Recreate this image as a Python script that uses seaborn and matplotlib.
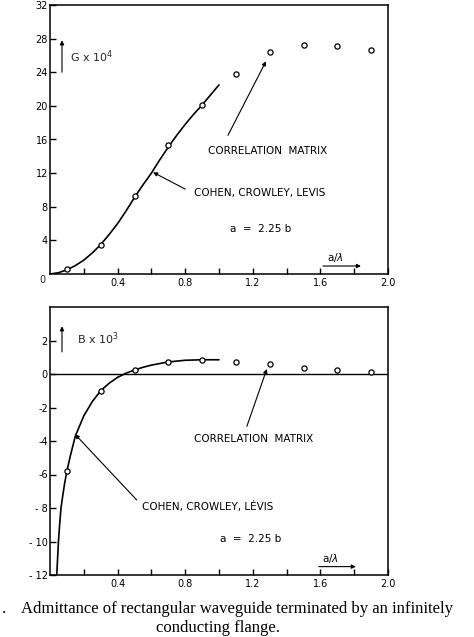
import numpy as np
import pandas as pd
import matplotlib
matplotlib.use("Agg")
import matplotlib.pyplot as plt
import seaborn as sns

# ---- data ----
pts_x = [0.1, 0.3, 0.5, 0.7, 0.9, 1.1, 1.3, 1.5, 1.7, 1.9]
G_pts = [0.55, 3.5, 9.3, 15.3, 20.1, 23.8, 26.4, 27.3, 27.1, 26.6]
B_pts = [-5.8, -1.0, 0.24, 0.72, 0.84, 0.74, 0.62, 0.34, 0.22, 0.12]

G_curve_x = [0.0, 0.05, 0.1, 0.15, 0.2, 0.25, 0.3, 0.35, 0.4, 0.45, 0.5,
             0.55, 0.6, 0.65, 0.7, 0.75, 0.8, 0.85, 0.9, 0.95, 1.0]
G_curve_y = [0.0, 0.15, 0.5, 1.0, 1.65, 2.5, 3.5, 4.7, 6.0, 7.5, 9.1,
             10.6, 12.0, 13.6, 15.1, 16.5, 17.8, 19.0, 20.1, 21.3, 22.5]

B_curve_x = [0.04, 0.045, 0.05, 0.057, 0.065, 0.075, 0.087, 0.1, 0.12, 0.15,
             0.2, 0.25, 0.3, 0.35, 0.4, 0.45, 0.5, 0.55, 0.6, 0.7, 0.8, 0.9, 1.0]
B_curve_y = [-12.0, -11.0, -10.0, -9.0, -8.0, -7.3, -6.5, -5.8, -4.9, -3.7,
             -2.5, -1.65, -1.0, -0.55, -0.2, 0.05, 0.24, 0.4, 0.53, 0.72, 0.82, 0.85, 0.85]

x_ticks = [0.2, 0.4, 0.6, 0.8, 1.0, 1.2, 1.4, 1.6, 1.8, 2.0]
x_labels = ["", "0.4", "", "0.8", "", "1.2", "", "1.6", "", "2.0"]
G_ticks = [4, 8, 12, 16, 20, 24, 28, 32]
B_ticks = [-12, -10, -8, -6, -4, -2, 0, 2]
B_labels = ["- 12", "- 10", "- 8", "-6", "-4", "-2", "0", "2"]

sns.set_style("ticks")
plt.rcParams["font.family"] = ["DejaVu Sans"]

fig = plt.figure(figsize=(4.74, 6.37), dpi=100)
ax1 = fig.add_axes([50/474, 1-274/637, 338/474, 269/637])
ax2 = fig.add_axes([50/474, 1-575/637, 338/474, 268/637])

dfG_c = pd.DataFrame({"x": G_curve_x, "y": G_curve_y})
dfG_p = pd.DataFrame({"x": pts_x, "y": G_pts})
dfB_c = pd.DataFrame({"x": B_curve_x, "y": B_curve_y})
dfB_p = pd.DataFrame({"x": pts_x, "y": B_pts})

for ax, dfc, dfp in [(ax1, dfG_c, dfG_p), (ax2, dfB_c, dfB_p)]:
    sns.lineplot(data=dfc, x="x", y="y", ax=ax, color="black", lw=1.2, sort=False,
                 solid_joinstyle="round")
    sns.scatterplot(data=dfp, x="x", y="y", ax=ax, s=14, facecolor="white",
                    edgecolor="black", linewidth=0.9, zorder=5)
    ax.set_xlim(0, 2.0)
    ax.set_xticks(x_ticks)
    ax.set_xticklabels(x_labels)
    ax.set_xlabel("")
    ax.set_ylabel("")
    for s in ax.spines.values():
        s.set_linewidth(1.1)
        s.set_color("black")
    ax.tick_params(axis="both", direction="in", length=4, width=1, labelsize=7,
                   colors="black")
    ax.tick_params(axis="x", pad=3)
    ax.tick_params(axis="y", pad=1.5)

ax1.set_ylim(0, 32)
ax1.set_yticks(G_ticks)
ax1.text(-0.047, -0.7, "0", fontsize=7, ha="center", va="center", clip_on=False)

ax2.set_ylim(-12, 4)
ax2.set_yticks(B_ticks)
ax2.set_yticklabels(B_labels)
ax2.axhline(0, color="black", lw=1.0)

arrow = dict(arrowstyle="-|>", color="black", lw=0.8, mutation_scale=6, shrinkA=0, shrinkB=0)
lbl = dict(fontsize=7.5, color="black")

# top panel annotations
ax1.annotate("", xy=(0.071, 27.8), xytext=(0.071, 24.0), arrowprops=arrow)
ax1.text(0.118, 25.8, r"G x 10$^4$", va="center", ha="left", fontsize=8)
ax1.annotate("", xy=(1.278, 25.3), xytext=(1.053, 16.5), arrowprops=arrow)
ax1.text(0.935, 14.6, "CORRELATION  MATRIX", ha="left", va="center", **lbl)
ax1.annotate("", xy=(0.61, 12.1), xytext=(0.80, 10.1), arrowprops=arrow)
ax1.text(0.852, 9.6, "COHEN, CROWLEY, LEVIS", ha="left", va="center", **lbl)
ax1.text(1.065, 5.35, "a  =  2.25 b", ha="left", va="center", **lbl)
ax1.text(1.64, 2.0, r"a/$\lambda$", ha="left", va="center", **lbl)
ax1.annotate("", xy=(1.84, 0.95), xytext=(1.615, 0.95), arrowprops=arrow)

# bottom panel annotations
ax2.annotate("", xy=(0.071, 2.85), xytext=(0.071, 1.32), arrowprops=arrow)
ax2.text(0.16, 2.1, r"B x 10$^3$", va="center", ha="left", fontsize=8)
ax2.annotate("", xy=(1.283, 0.3), xytext=(1.165, -3.12), arrowprops=arrow)
ax2.text(0.853, -3.9, "CORRELATION  MATRIX", ha="left", va="center", **lbl)
ax2.annotate("", xy=(0.148, -3.6), xytext=(0.513, -7.52), arrowprops=arrow)
ax2.text(0.543, -7.9, "COHEN, CROWLEY, LÉVIS", ha="left", va="center", **lbl)
ax2.text(1.007, -9.86, "a  =  2.25 b", ha="left", va="center", **lbl)
ax2.text(1.61, -11.0, r"a/$\lambda$", ha="left", va="center", **lbl)
ax2.annotate("", xy=(1.81, -11.5), xytext=(1.59, -11.5), arrowprops=arrow)

# caption
cap = dict(family=["Liberation Serif"], fontsize=12, color="black")
fig.text(0.004, 1-609/637, ".", ha="left", va="center", **cap)
fig.text(21/474, 1-609/637, "Admittance of rectangular waveguide terminated by an infinitely",
         ha="left", va="center", **cap)
fig.text(218/474, 1-628/637, "conducting flange.", ha="center", va="center", **cap)

fig.savefig("out.png", dpi=100, facecolor="white")
